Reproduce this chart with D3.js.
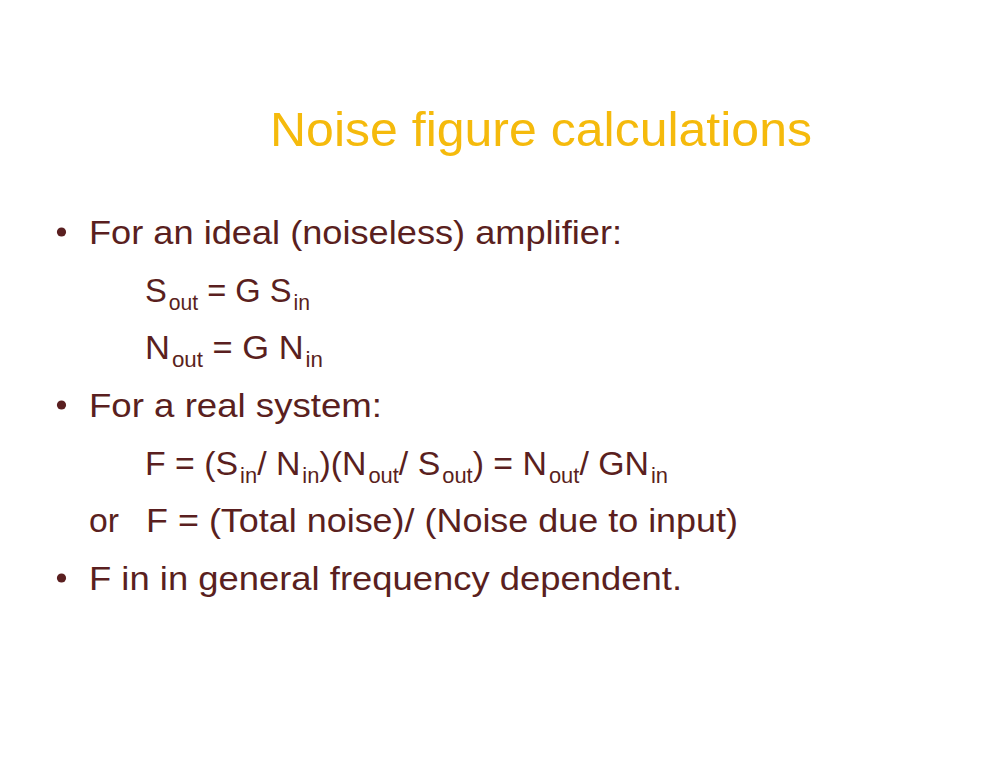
<!DOCTYPE html>
<html>
<head>
<meta charset="utf-8">
<script src="https://cdn.jsdelivr.net/npm/d3@7"></script>
<style>
  html, body { margin: 0; padding: 0; background: #ffffff; }
  svg { display: block; }
</style>
</head>
<body>
<script>
// ---- content ----
const titleText = "Noise figure calculations";
const lineKinds = ["bullet", "eq", "eq", "bullet", "eq", "or", "bullet"];
// each line: list of [text, isSubscript]
const lineSegments = [
  [["For an ideal (noiseless) amplifier:", 0]],
  [["S", 0], ["out", 1], [" = G S", 0], ["in", 1]],
  [["N", 0], ["out", 1], [" = G N", 0], ["in", 1]],
  [["For a real system:", 0]],
  [["F = (S", 0], ["in", 1], ["/ N", 0], ["in", 1], [")(N", 0], ["out", 1], ["/ S", 0], ["out", 1], [") = N", 0], ["out", 1], ["/ GN", 0], ["in", 1]],
  [["F = (Total noise)/ (Noise due to input)", 0]],
  [["F in in general frequency dependent.", 0]]
];
const orLabel = "or";

// ---- layout ----
const W = 990, H = 765;
const titleColor = "#F5BA0C";
const textColor = "#5A1F20";
const font = "'Liberation Sans', Arial, Helvetica, sans-serif";
const bodySize = 34, subSize = 22, subShift = 8;

const svg = d3.select("body").append("svg").attr("width", W).attr("height", H);
svg.append("rect").attr("width", W).attr("height", H).attr("fill", "#ffffff");

svg.append("text")
  .attr("x", 270).attr("y", 146)
  .attr("font-family", font).attr("font-size", 49)
  .attr("fill", titleColor)
  .attr("textLength", 542).attr("lengthAdjust", "spacingAndGlyphs")
  .text(titleText);

const idx = d3.range(lineSegments.length);
const yScale = d3.scaleLinear().domain([0, lineSegments.length - 1]).range([244, 590]);
const xStart = { bullet: 89, eq: 145, or: 146 };
const xEnd = [622, 310, 323, 382, 668, 738, 682];

const g = svg.append("g");
idx.forEach(i => {
  const kind = lineKinds[i];
  const y = yScale(i);
  if (kind === "bullet") {
    g.append("circle").attr("cx", 61.5).attr("cy", y - 12).attr("r", 4.6).attr("fill", textColor);
  }
  if (kind === "or") {
    g.append("text").attr("x", 89).attr("y", y)
      .attr("font-family", font).attr("font-size", bodySize).attr("fill", textColor)
      .attr("textLength", 30).attr("lengthAdjust", "spacingAndGlyphs")
      .text(orLabel);
  }
  const t = g.append("text")
    .attr("x", xStart[kind]).attr("y", y)
    .attr("font-family", font).attr("font-size", bodySize).attr("fill", textColor)
    .attr("textLength", xEnd[i] - xStart[kind]).attr("lengthAdjust", "spacingAndGlyphs")
    .style("white-space", "pre");
  let shifted = false;
  lineSegments[i].forEach(([s, sub]) => {
    const ts = t.append("tspan").text(s);
    if (sub) {
      ts.attr("font-size", subSize).attr("dy", shifted ? 0 : subShift).attr("dx", 2);
      shifted = true;
    } else {
      ts.attr("dy", shifted ? -subShift : 0);
      shifted = false;
    }
  });
});
</script>
</body>
</html>
